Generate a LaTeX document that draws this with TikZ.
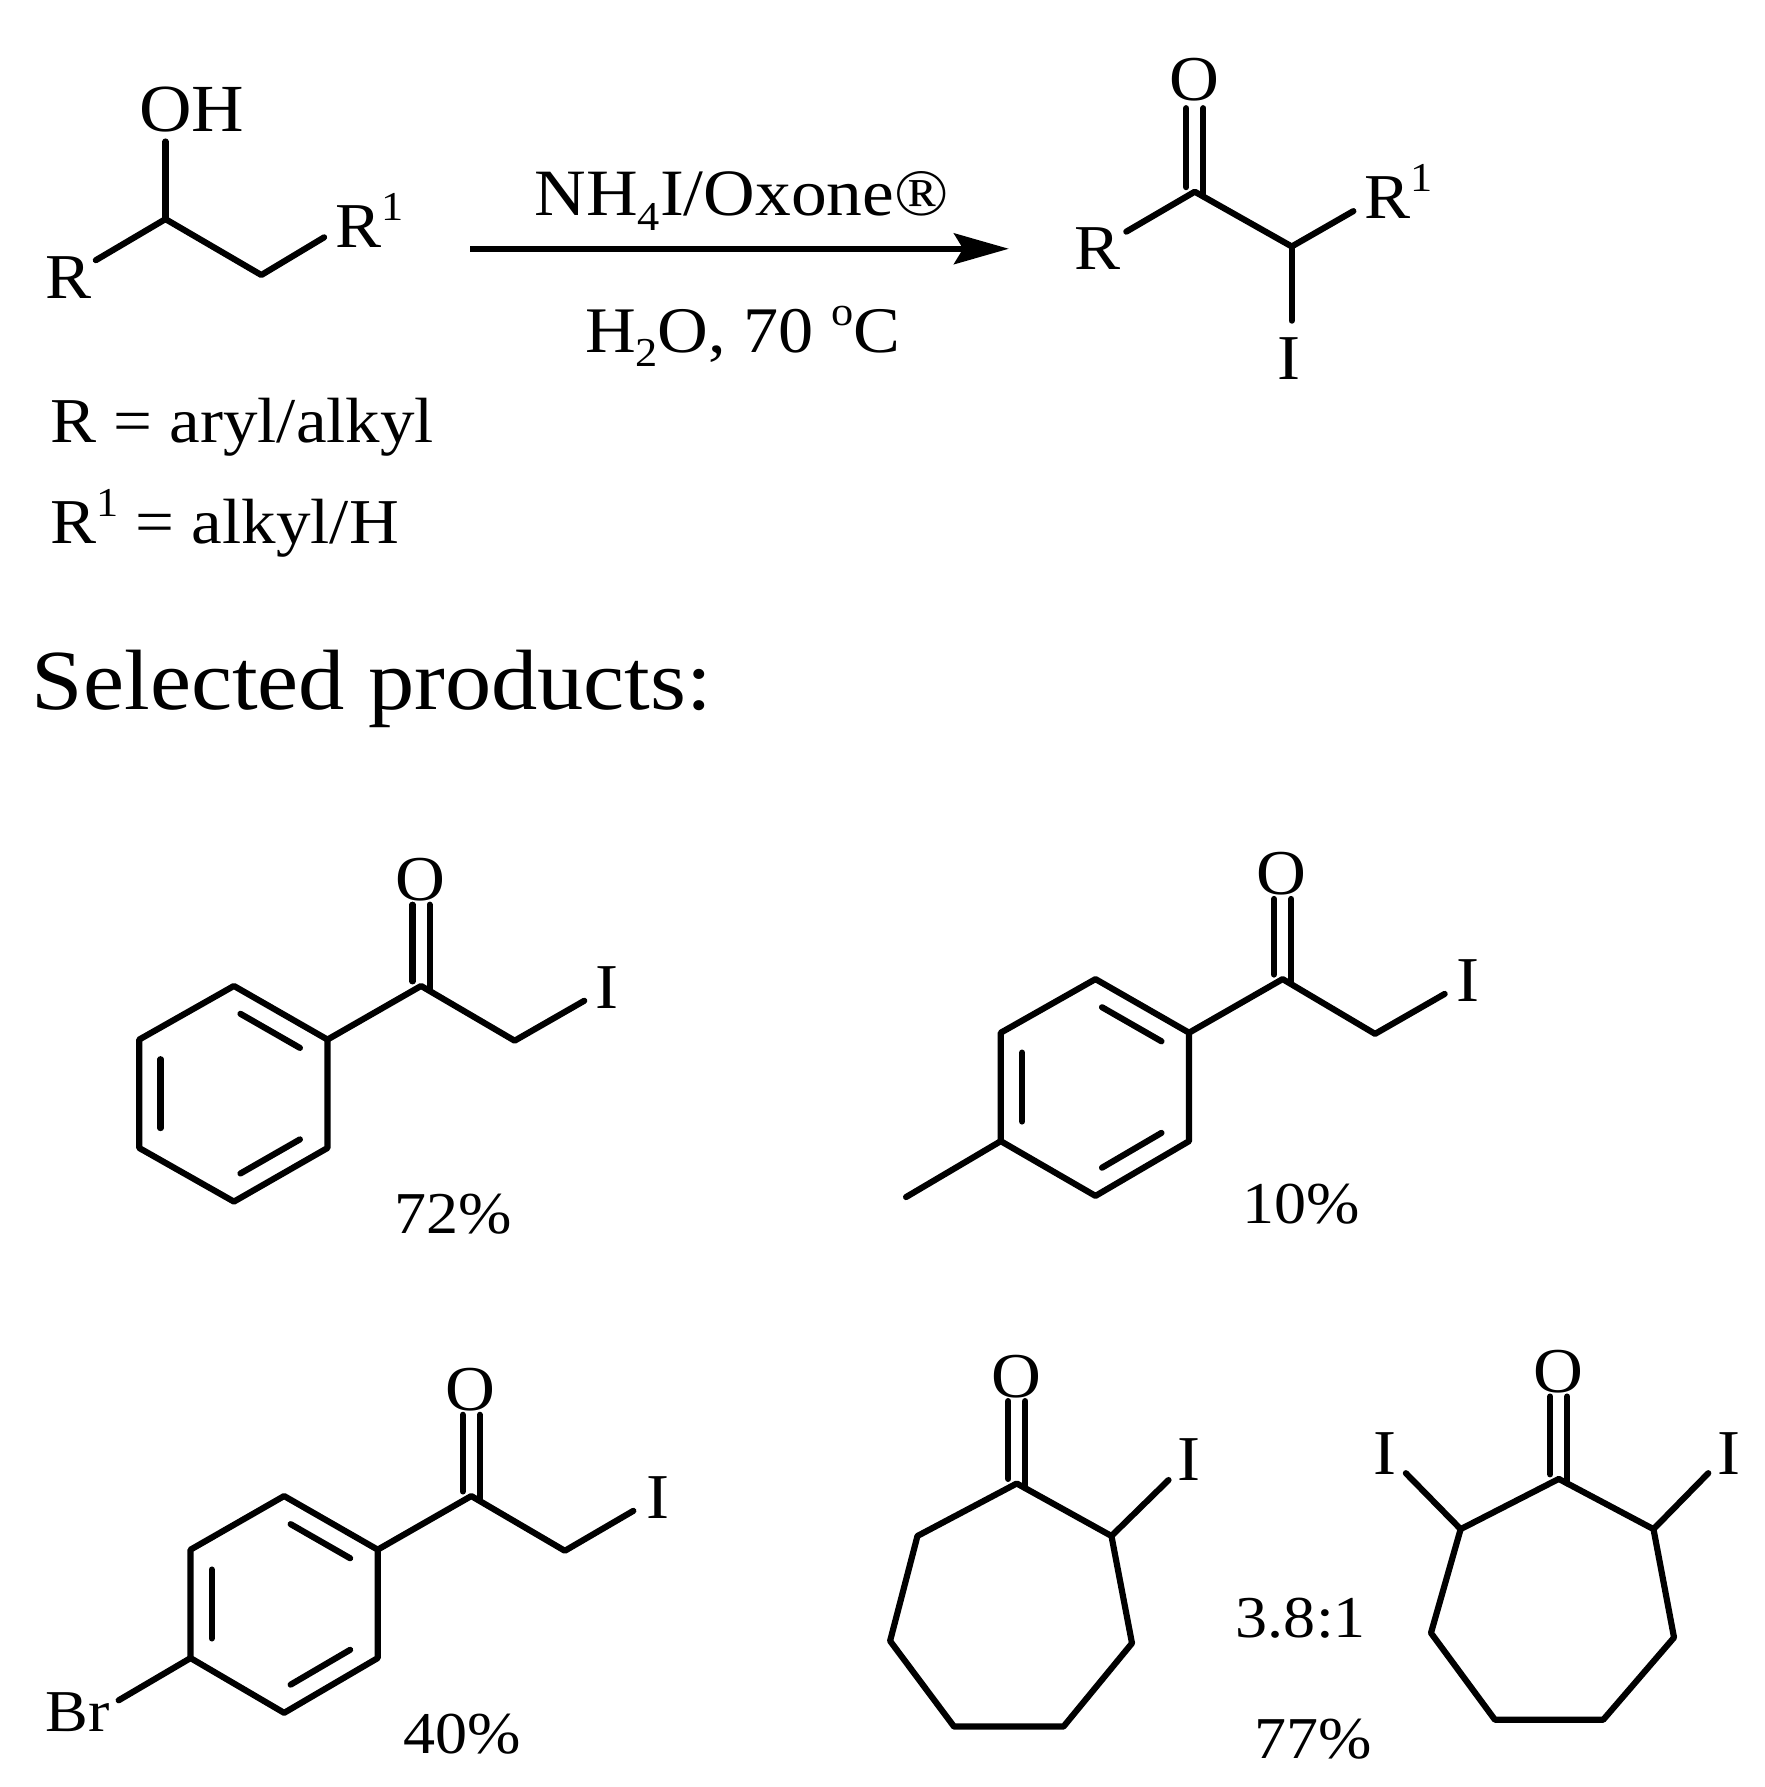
\documentclass[tikz,border=0pt]{standalone}
\usepackage{fontspec}
\setmainfont[FakeStretch=1.08]{Liberation Serif}
\usetikzlibrary{arrows.meta,calc}
\newcommand{\fsz}[1]{\fontsize{#1}{#1}\selectfont}
\newcommand{\sups}[1]{\raisebox{0.42em}{\fsz{36}#1}}
\newcommand{\subs}[1]{\raisebox{-0.22em}{\fsz{36}#1}}
\newcommand{\innerbond}[3]{\draw[bond] ($($(#1)!.09!(#2)$)!.225!(#3)$) -- ($($(#2)!.09!(#1)$)!.225!(#3)$);}
\newcommand{\dbl}[2]{\draw[bond] ($(#2 |- #1.south)+(-7.5,0)$) -- ($(#2)+(-7.5,-4)$); \draw[bond] ($(#2 |- #1.south)+(7.5,0)$) -- ($(#2)+(7.5,4)$);}
\tikzset{
  atom/.style={inner sep=3pt,outer sep=0pt,font=\fsz{56}},
  txt/.style={inner sep=0pt,outer sep=0pt,font=\fsz{56}},
  yieldtxt/.style={inner sep=0pt,outer sep=0pt,font=\fsz{52}},
  bond/.style={line width=5.4pt,line join=round,line cap=round,black},
}
\begin{document}
\begin{tikzpicture}[x=1pt,y=-1pt]
\useasboundingbox (0,0) rectangle (1546,1566);
\fill[white] (0,0) rectangle (1546,1566);

% top left alcohol
\node[atom] (rA) at (60,243) {R};
\node[atom,font=\fsz{59}] (ohA) at (168,96) {OH};
\node[atom,anchor=west,inner sep=0pt] (r1A) at (294,193) {R\sups{1}};
\coordinate (c1) at (145,192);
\coordinate (c2) at (229,241);
\coordinate (r1Aend) at (284,208);
\coordinate (rAend) at (84,228);
\coordinate (ohAend) at (145,124);
\draw[bond] (rAend) -- (c1) -- (c2) -- (r1Aend);
\draw[bond] (c1) -- (ohAend);

% reaction arrow
\coordinate (arS) at (412,218);
\coordinate (arE) at (884,218);
\draw[line width=4.8pt,-{Stealth[length=48pt,width=27pt,inset=8pt]}] (arS) -- (arE);
\node[txt,anchor=base,font=\fsz{58}] (reag) at (650,189) {NH\subs{4}I/Oxone®};
\node[txt,anchor=base,font=\fsz{57}] (cond) at (651,309) {H\subs{2}O, 70 \sups{o}C};

% top right product
\node[atom,inner sep=6pt] (oP) at (1047,70) {O};
\node[atom] (rP) at (962,218) {R};
\node[atom,anchor=west,inner sep=0pt] (r1P) at (1196,168) {R\sups{1}};
\node[atom] (iP) at (1130,314) {I};
\coordinate (cP) at (1047,168);
\coordinate (dP) at (1132,216);
\coordinate (rPend) at (987,203);
\coordinate (r1Pend) at (1186,185);
\coordinate (iPend) at (1132,281);
\draw[bond] (rPend) -- (cP) -- (dP) -- (r1Pend);
\draw[bond] (dP) -- (iPend);
\dbl{oP}{cP}

% definitions
\node[txt,anchor=base west] (def1) at (44,388) {R = aryl/alkyl};
\node[txt,anchor=base west] (def2) at (44,476) {R\sups{1} = alkyl/H};
\node[inner sep=0pt,outer sep=0pt,anchor=base west,font=\fsz{75}] (sel) at (28,622) {Selected products:};

% molecule A
\coordinate (a1) at (205,864);
\coordinate (a2) at (287,911);
\coordinate (a3) at (287,1006);
\coordinate (a4) at (205,1053);
\coordinate (a5) at (122,1006);
\coordinate (a6) at (122,911);
\coordinate (ac) at (205,958);
\coordinate (aC) at (369,864);
\coordinate (aH) at (451,912);
\coordinate (aIe) at (512,877);
\node[atom] (aO) at (368,771) {O};
\node[atom] (aI) at (532,865) {I};
\node[yieldtxt] (ay) at (397,1064) {72\%};
\draw[bond] (a1) -- (a2) -- (a3) -- (a4) -- (a5) -- (a6) -- cycle;
\innerbond{a1}{a2}{ac}
\innerbond{a3}{a4}{ac}
\innerbond{a5}{a6}{ac}
\draw[bond] (a2) -- (aC) -- (aH) -- (aIe);
\dbl{aO}{aC}

% molecule B
\coordinate (b1) at (960,858);
\coordinate (b2) at (1042,905);
\coordinate (b3) at (1042,1000);
\coordinate (b4) at (960,1048);
\coordinate (b5) at (877,1000);
\coordinate (b6) at (877,905);
\coordinate (bc) at (960,953);
\coordinate (bM) at (794,1049);
\coordinate (bC) at (1124,858);
\coordinate (bH) at (1205,906);
\coordinate (bIe) at (1266,871);
\node[atom] (bO) at (1123,766) {O};
\node[atom] (bI) at (1286,859) {I};
\node[yieldtxt] (by) at (1140,1055) {10\%};
\draw[bond] (b1) -- (b2) -- (b3) -- (b4) -- (b5) -- (b6) -- cycle;
\innerbond{b1}{b2}{bc}
\innerbond{b3}{b4}{bc}
\innerbond{b5}{b6}{bc}
\draw[bond] (b5) -- (bM);
\draw[bond] (b2) -- (bC) -- (bH) -- (bIe);
\dbl{bO}{bC}

% molecule C
\coordinate (c1r) at (249,1311);
\coordinate (c2r) at (331,1358);
\coordinate (c3r) at (331,1453);
\coordinate (c4r) at (249,1501);
\coordinate (c5r) at (167,1453);
\coordinate (c6r) at (167,1358);
\coordinate (cc) at (249,1406);
\coordinate (cC) at (413,1311);
\coordinate (cH) at (495,1359);
\coordinate (cIe) at (555,1324);
\coordinate (cBe) at (104,1490);
\node[atom] (cO) at (412,1218) {O};
\node[atom] (cI) at (577,1312) {I};
\node[atom,font=\fsz{52}] (cBr) at (68,1500) {Br};
\node[yieldtxt] (cy) at (405,1520) {40\%};
\draw[bond] (c1r) -- (c2r) -- (c3r) -- (c4r) -- (c5r) -- (c6r) -- cycle;
\innerbond{c1r}{c2r}{cc}
\innerbond{c3r}{c4r}{cc}
\innerbond{c5r}{c6r}{cc}
\draw[bond] (c5r) -- (cBe);
\draw[bond] (c2r) -- (cC) -- (cH) -- (cIe);
\dbl{cO}{cC}

% molecule D
\coordinate (d1) at (891,1300);
\coordinate (d2) at (974,1346);
\coordinate (d3) at (992,1440);
\coordinate (d4) at (932,1513);
\coordinate (d5) at (836,1513);
\coordinate (d6) at (780,1438);
\coordinate (d7) at (804,1346);
\coordinate (dIe) at (1024,1297);
\node[atom] (dO) at (891,1206) {O};
\node[atom] (dI) at (1042,1279) {I};
\node[yieldtxt] (ratio) at (1140,1418) {3.8:1};
\node[yieldtxt] (dy) at (1151,1524) {77\%};
\draw[bond] (d1) -- (d2) -- (d3) -- (d4) -- (d5) -- (d6) -- (d7) -- cycle;
\draw[bond] (d2) -- (dIe);
\dbl{dO}{d1}

% molecule E
\coordinate (e1) at (1366,1296);
\coordinate (e2) at (1449,1340);
\coordinate (e3) at (1467,1435);
\coordinate (e4) at (1405,1507);
\coordinate (e5) at (1310,1507);
\coordinate (e6) at (1254,1431);
\coordinate (e7) at (1280,1340);
\coordinate (eIle) at (1232,1291);
\coordinate (eIre) at (1497,1291);
\node[atom] (eO) at (1366,1202) {O};
\node[atom] (eIl) at (1214,1274) {I};
\node[atom] (eIr) at (1515,1274) {I};
\draw[bond] (e1) -- (e2) -- (e3) -- (e4) -- (e5) -- (e6) -- (e7) -- cycle;
\draw[bond] (e7) -- (eIle);
\draw[bond] (e2) -- (eIre);
\dbl{eO}{e1}
\end{tikzpicture}
\end{document}
